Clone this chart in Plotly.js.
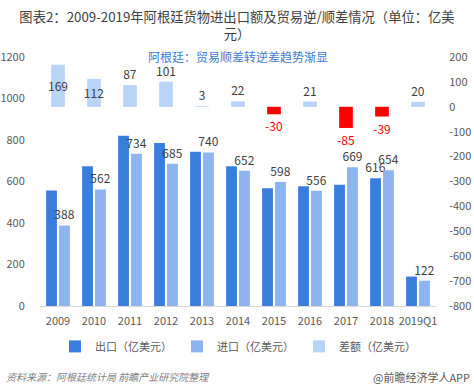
<!DOCTYPE html>
<html><head><meta charset="utf-8">
<script src="https://cdn.plot.ly/plotly-3.0.1.min.js"></script>
<style>html,body{margin:0;padding:0;background:#fff}#c{width:474px;height:391px}</style>
</head><body><div id="c"></div>
<script>
var categories = ['2009','2010','2011','2012','2013','2014','2015','2016','2017','2018','2019Q1'];
var exportVals = [557,674,821,786,743,674,568,577,584,616,142];
var importVals = [388,562,734,685,740,652,598,556,669,654,122];
var balanceVals = [169,112,87,101,3,22,-30,21,-85,-39,20];
var exportLabels = ['','','','','','','','','','616',''];
var leftTicks = [0,200,400,600,800,1000,1200];
var rightTicks = [-800,-700,-600,-500,-400,-300,-200,-100,0,100,200];
var rightTickText = ['-800','-700','-600','-500','-400','-300','-200','-100','0','100','200'];

var FONT = '"Noto Sans CJK SC","Noto Sans",sans-serif';
var balColors = balanceVals.map(function(v){return v<0?'#ff0000':'#b8d4f7';});
var balTextColors = balanceVals.map(function(v){return v<0?'#ff0000':'#404040';});
var balPos = balanceVals.map(function(v){return v>=110?'inside':'outside';});

var traces = [
 {type:'bar',name:'出口（亿美元）',x:categories,y:exportVals,marker:{color:'#3b7ddd'},
  width:0.3,offset:-0.33,text:exportLabels,textposition:'outside',textangle:0,constraintext:'none',cliponaxis:false,
  textfont:{size:12,color:'#404040',family:FONT},hoverinfo:'y'},
 {type:'bar',name:'进口（亿美元）',x:categories,y:importVals,marker:{color:'#8db4ee'},
  width:0.3,offset:0.03,text:importVals.map(String),textposition:'outside',textangle:0,constraintext:'none',cliponaxis:false,
  textfont:{size:12,color:'#404040',family:FONT},hoverinfo:'y'},
 {type:'bar',name:'差额（亿美元）',x:categories,y:balanceVals,yaxis:'y2',marker:{color:balColors},
  width:0.38,offset:-0.19,text:balanceVals.map(String),textposition:balPos,insidetextanchor:'middle',textangle:0,
  constraintext:'none',cliponaxis:false,
  textfont:{size:12,color:balTextColors,family:FONT},
  insidetextfont:{size:12,color:'#404040',family:FONT},
  outsidetextfont:{size:12,color:balTextColors,family:FONT},hoverinfo:'y'}
];

var layout = {
 width:474,height:391,
 margin:{l:40,r:38,t:57,b:85},
 paper_bgcolor:'#fff',plot_bgcolor:'#fff',
 font:{family:FONT,color:'#595959',size:11},
 uniformtext:{mode:'show',minsize:12},
 title:{text:'图表2：2009-2019年阿根廷货物进出口额及贸易逆/顺差情况（单位：亿美<br>元）',
   font:{size:13.3,color:'#404040',family:FONT},x:0.5,xanchor:'center',y:0.944,yanchor:'top'},
 barmode:'overlay',
 showlegend:true,
 legend:{orientation:'h',x:0.5,xanchor:'center',y:-0.104,yanchor:'top',font:{size:11,color:'#595959'},
   itemwidth:30,traceorder:'normal'},
 xaxis:{type:'category',range:[-0.5,10.5],showgrid:false,showline:true,linecolor:'#d9d9d9',linewidth:1,
   ticks:'outside',ticklen:5,tickcolor:'rgba(0,0,0,0)',tickfont:{size:11,color:'#595959'},fixedrange:true},
 yaxis:{range:[0,1200],tickvals:leftTicks,showgrid:false,zeroline:false,showline:false,
   ticks:'outside',ticklen:12,tickcolor:'rgba(0,0,0,0)',tickfont:{size:11,color:'#595959'}},
 yaxis2:{overlaying:'y',side:'right',range:[-800,200],tickvals:rightTicks,ticktext:rightTickText,
   showgrid:false,zeroline:false,showline:false,ticks:'outside',ticklen:10,tickcolor:'rgba(0,0,0,0)',
   tickfont:{size:11,color:'#595959'}},
 annotations:[
  {text:'阿根廷：贸易顺差转逆差趋势渐显',xref:'paper',yref:'paper',x:0.5,y:1.003,xanchor:'center',yanchor:'middle',
   showarrow:false,font:{size:12,color:'#3d7ad6',family:FONT}},
  {text:'<i>资料来源：阿根廷统计局 前瞻产业研究院整理</i>',xref:'paper',yref:'paper',x:-0.09,y:-0.285,
   xanchor:'left',yanchor:'middle',showarrow:false,font:{size:10,color:'#7f7f7f',family:FONT}},
  {text:'@前瞻经济学人APP',xref:'paper',yref:'paper',x:1.09,y:-0.285,xanchor:'right',yanchor:'middle',
   showarrow:false,font:{size:11,color:'#595959',family:FONT}}
 ]
};
Plotly.newPlot('c',traces,layout,{displayModeBar:false,staticPlot:true});
</script></body></html>
